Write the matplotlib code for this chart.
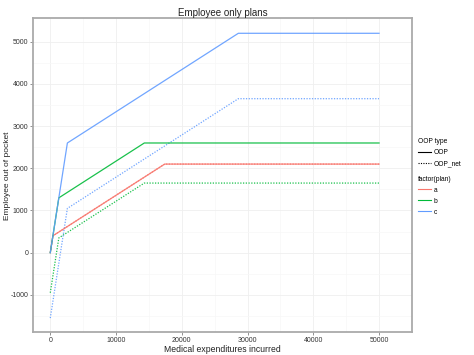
import matplotlib
matplotlib.use("Agg")
import matplotlib.pyplot as plt
from matplotlib.lines import Line2D

plt.rcParams['font.family'] = ['Liberation Sans', 'DejaVu Sans']

plans = ["a", "b", "c"]
colors = ["#F8766D", "#00BA38", "#619CFF"]

# expenditure breakpoints and out-of-pocket values per plan
x_a = [0, 400, 17400, 50000]
oop_a = [0, 400, 2100, 2100]
net_a = [0, 400, 2100, 2100]

x_b = [0, 1300, 14300, 50000]
oop_b = [0, 1300, 2600, 2600]
net_b = [-950, 350, 1650, 1650]

x_c = [0, 2600, 28600, 50000]
oop_c = [0, 2600, 5200, 5200]
net_c = [-1550, 1050, 3650, 3650]

xs = [x_a, x_b, x_c]
oops = [oop_a, oop_b, oop_c]
nets = [net_a, net_b, net_c]

x_ticks = [0, 10000, 20000, 30000, 40000, 50000]
y_ticks = [-1000, 0, 1000, 2000, 3000, 4000, 5000]

fig = plt.figure(figsize=(4.74, 3.55), dpi=100)
ax = fig.add_axes([0.0696, 0.0648, 0.7994, 0.8842])

for x, o, n, c in zip(xs, oops, nets, colors):
    ax.plot(x, n, color=c, lw=0.9, ls=(0, (1, 1.2)), alpha=0.9)
for x, o, n, c in zip(xs, oops, nets, colors):
    ax.plot(x, o, color=c, lw=0.9, alpha=0.9)

ax.set_xlim(-2630, 52750)
ax.set_ylim(-1880, 5560)
ax.set_xticks(x_ticks)
ax.set_xticklabels([str(t) for t in x_ticks])
ax.set_yticks(y_ticks)
ax.set_yticklabels([str(t) for t in y_ticks])
ax.set_xticks([-5000 + 10000 * i for i in range(7)][1:], minor=True)
ax.set_yticks([-1500 + 1000 * i for i in range(7)], minor=True)
ax.grid(True, which='major', color='#EFEFEF', lw=0.6)
ax.grid(True, which='minor', color='#F7F7F7', lw=0.5)
ax.set_axisbelow(True)
ax.tick_params(axis='both', which='major', labelsize=5, length=2, width=0.5,
               color='#666666', pad=1.5, labelcolor='#333333')
ax.tick_params(axis='both', which='minor', length=0)
for s in ax.spines.values():
    s.set_color('#AAAAAA')
    s.set_linewidth(1.3)

ax.set_title("Employee only plans", fontsize=7, pad=1.2, color='#222222')
ax.set_xlabel("Medical expenditures incurred", fontsize=6.2, labelpad=0.5, color='#222222')
fig.text(8 / 474, 1 - 176 / 355, "Employee out of pocket", fontsize=6,
         rotation=90, ha='center', va='center', color='#222222')

h1 = [Line2D([], [], color='black', lw=0.8),
      Line2D([], [], color='black', lw=0.8, ls=(0, (1, 1.2)))]
leg1 = fig.legend(h1, ["OOP", "OOP_net"], title="OOP type",
                  loc='upper left', bbox_to_anchor=(0.881, 0.61),
                  fontsize=4.8, title_fontsize=4.8, frameon=False,
                  handlelength=2.0, handletextpad=0.4, labelspacing=0.6,
                  borderaxespad=0, borderpad=0)
leg1._legend_box.align = "left"

h2 = [Line2D([], [], color=c, lw=0.8) for c in colors]
leg2 = fig.legend(h2, plans, title="factor(plan)",
                  loc='upper left', bbox_to_anchor=(0.881, 0.505),
                  fontsize=4.8, title_fontsize=4.8, frameon=False,
                  handlelength=2.0, handletextpad=0.4, labelspacing=0.6,
                  borderaxespad=0, borderpad=0)
leg2._legend_box.align = "left"

fig.savefig("out.png", dpi=100)
